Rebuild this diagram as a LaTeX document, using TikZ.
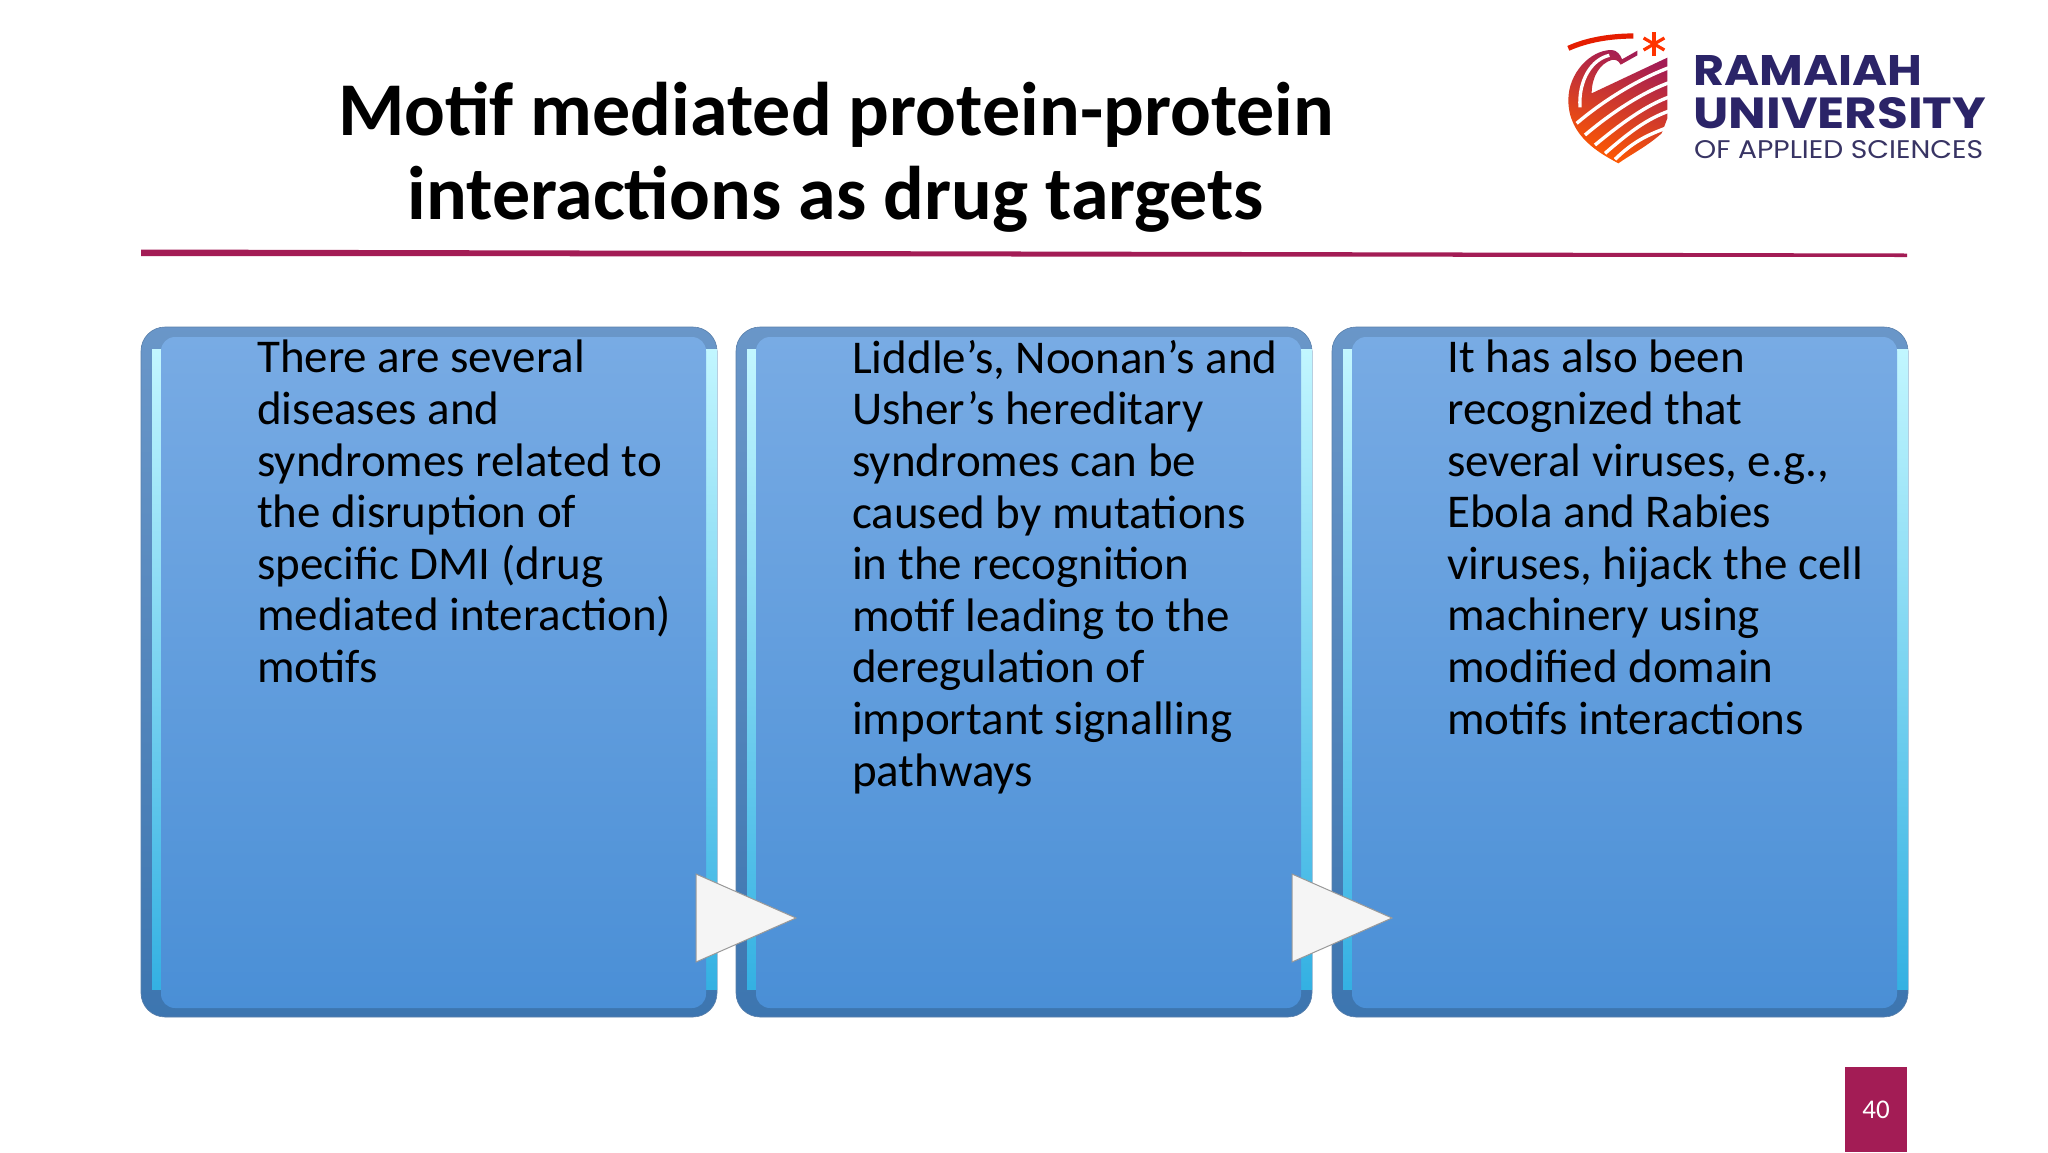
\documentclass[tikz,border=0pt]{standalone}
\usepackage{fontspec}
\setmainfont{Carlito}
\newfontfamily\logofont{Poppins}
\usetikzlibrary{shapes.geometric,calc}
\definecolor{ruleplum}{HTML}{A31C55}
\definecolor{logoink}{HTML}{2B2468}
\definecolor{facetop}{HTML}{78ABE4}
\definecolor{facemid}{HTML}{5AA0E3}
\definecolor{facelow}{HTML}{4A8FD6}
\tikzset{
  boxedge/.style={rectangle,rounded corners=24pt,anchor=north west,inner sep=0pt,outer sep=0pt,
    minimum width=576pt,minimum height=690pt,draw=black!25!facetop,line width=.6pt,
    top color=black!12!facetop,bottom color=black!18!facelow},
  boxface/.style={rectangle,rounded corners=14pt,anchor=north west,inner sep=0pt,outer sep=0pt,
    minimum width=545pt,minimum height=671pt,
    top color=facetop,middle color=facemid,bottom color=facelow},
  boxstrip/.style={rectangle,anchor=north west,inner sep=0pt,outer sep=0pt,minimum height=640pt,
    top color=cyan!15!blue!5!white!80!cyan,bottom color=cyan!30!facelow},
  boxtext/.style={anchor=north west,align=left,inner sep=0pt,font=\fontsize{47}{51.6}\selectfont},
  arrowtri/.style={isosceles triangle,isosceles triangle stretches,anchor=lower side,inner sep=0pt,outer sep=0pt,
    minimum height=100pt,minimum width=88pt,fill=black!4,draw=black!40,line width=1pt},
  logoline/.style={anchor=west,inner sep=0pt,text=logoink}
}
\begin{document}
\begin{tikzpicture}[x=1pt,y=-1pt]
  \useasboundingbox (0,0) rectangle (2048,1152);
  \fill[white] (0,0) rectangle (2048,1152);
  % title and rule
  \node[align=center,inner sep=0pt,font=\fontsize{76}{84}\selectfont\bfseries] (title) at (836,157)
    {Motif mediated protein-protein\\interactions as drug targets};
  \fill[ruleplum] (141,249.5) -- (1907,253.5) -- (1907,257) -- (141,256) -- cycle;
  % three boxes
  \foreach \boxname/\xpos in {boxA/141,boxB/736,boxC/1332}{
    \node[boxedge] (\boxname) at (\xpos,327) {};
    \node[boxstrip,minimum width=10pt] (\boxname left) at (\xpos+11,349) {};
    \node[boxstrip,minimum width=11pt] (\boxname right) at (\xpos+565,349) {};
    \node[boxface] (\boxname face) at (\xpos+20,337) {};
  }
  \node[boxtext] (textA) at (257,340) {There are several\\diseases and\\syndromes related to\\the disruption of\\specific DMI (drug\\mediated interaction)\\motifs};
  \node[boxtext] (textB) at (852,340) {Liddle’s, Noonan’s and\\Usher’s hereditary\\syndromes can be\\caused by mutations\\in the recognition\\motif leading to the\\deregulation of\\important signalling\\pathways};
  \node[boxtext] (textC) at (1447,340) {It has also been\\recognized that\\several viruses, e.g.,\\Ebola and Rabies\\viruses, hijack the cell\\machinery using\\modified domain\\motifs interactions};
  % arrows between boxes
  \node[arrowtri] (arrowAB) at (696,918) {};
  \node[arrowtri] (arrowBC) at (1292,918) {};
  % page number
  \node[rectangle,fill=ruleplum,anchor=north west,minimum width=62pt,minimum height=85pt,inner sep=0pt,outer sep=0pt,
    text=white,font=\fontsize{27}{27}\selectfont] (pagenum) at (1845,1067) {40};
  % logo
  \begin{scope}[shift={(1550,20)},x=.3333pt,y=-.3333pt]
    \shade[left color=ruleplum,right color=orange!70!red,shading angle=-20]
      (55,240) .. controls (55,160) and (120,90) .. (185,90) .. controls (200,90) and (212,105) .. (216,118)
      -- (262,92) -- (262,106) -- (212,134) .. controls (205,120) and (195,118) .. (185,120)
      .. controls (150,130) and (125,170) .. (125,220) -- (352,113) -- (352,295) -- (335,340)
      .. controls (290,380) and (240,405) .. (205,430) .. controls (150,400) and (55,350) .. (55,240) -- cycle;
    \draw[white,line width=3.3pt] (178,106) .. controls (125,118) and (85,180) .. (90,262);
    \foreach \ya/\xb/\yb/\xc/\yc in {142/180/225/80/310,187/200/265/105/345,230/220/305/135/375,272/240/335/165/400,320/250/365/195/418}{
      \draw[white,line width=3.4pt] (360,\ya) .. controls (290,\ya+25) and (\xb,\yb) .. (\xc,\yc);
    }
    \draw[red!75!orange!90!black,line width=5.2pt] (55,85) .. controls (110,60) and (180,48) .. (250,48);
    \foreach \ang in {0,60,120}{
      \draw[red!60!orange,line width=3.2pt] (312,72)+(\ang+90:36) -- +(\ang+270:36);
    }
  \end{scope}
  \node[logoline] (logoA) at (1693,70) {\resizebox{229pt}{30pt}{\logofont\bfseries RAMAIAH}};
  \node[logoline] (logoB) at (1693,113) {\resizebox{293pt}{31pt}{\logofont\bfseries UNIVERSITY}};
  \node[logoline,text=logoink!80!black!90] (logoC) at (1694,150) {\resizebox{289pt}{18pt}{\logofont OF APPLIED SCIENCES}};
\end{tikzpicture}
\end{document}
